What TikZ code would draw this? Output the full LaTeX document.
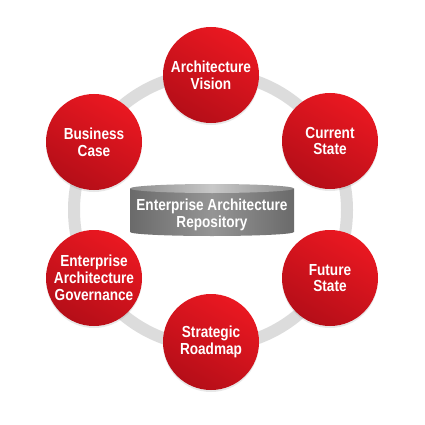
\documentclass[tikz,border=0pt]{standalone}
\usepackage{fontspec}
\newfontfamily\cond{Liberation Sans}[FakeStretch=0.85]
\usetikzlibrary{shadows}
\definecolor{redA}{HTML}{EA1821}
\definecolor{redB}{HTML}{B50E18}
\definecolor{ringgray}{HTML}{DCDCDC}
\definecolor{cylA}{HTML}{6A6A6A}
\definecolor{cylB}{HTML}{959595}
\definecolor{cylTopA}{HTML}{8C8C8C}
\definecolor{cylTopB}{HTML}{C8C8C8}
\tikzset{
  phase/.style={circle, minimum size=96pt, inner sep=0pt, align=center,
    left color=redA, right color=redB, shading angle=-30, text=white,
    font=\cond\bfseries\fontsize{16}{16.8}\selectfont,
    drop shadow={shadow xshift=0pt, shadow yshift=-2pt, opacity=0.18}},
  ring/.style={line width=12pt, draw=ringgray},
  repolabel/.style={align=center, text=white, font=\cond\bfseries\fontsize{16}{16.8}\selectfont}
}
\begin{document}
\begin{tikzpicture}[x=1pt,y=-1pt]
\useasboundingbox[fill=white] (0,0) rectangle (425,425);
\coordinate (ctr) at (210.5,210);
\draw[ring] (ctr) circle[radius=136.5];
% cylinder
\shade[left color=cylA, right color=cylA, middle color=cylB]
  (130,188.5) -- (130,232) arc[start angle=180, end angle=0, x radius=82, y radius=4]
  -- (294,188.5) -- cycle;
\shade[left color=cylTopA, right color=cylTopA, middle color=cylTopB]
  (212,188.5) ellipse[x radius=82, y radius=4.5];
\node[repolabel] (repo) at (212,214.5) {Enterprise Architecture\\Repository};
% phases
\node[phase] (vision) at (211,75) {Architecture\\Vision};
\node[phase] (current) at (330,141) {Current\\State};
\node[phase] (future) at (330,278) {Future\\State};
\node[phase] (roadmap) at (211,342) {Strategic\\Roadmap};
\node[phase] (gov) at (94,278) {Enterprise\\Architecture\\Governance};
\node[phase] (business) at (94,142) {Business\\Case};
\end{tikzpicture}
\end{document}
